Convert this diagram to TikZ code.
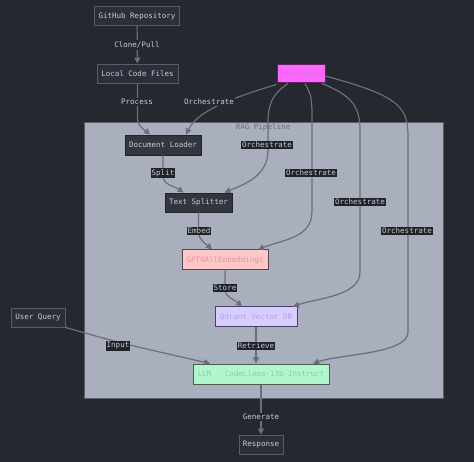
\documentclass[tikz,border=0pt]{standalone}
\usepackage{fontspec}
\setmonofont{DejaVu Sans Mono}
\usetikzlibrary{arrows.meta}
\definecolor{bgc}{RGB}{37,40,47}
\definecolor{clusterc}{RGB}{169,175,189}
\definecolor{clusterb}{RGB}{90,95,108}
\definecolor{edgec}{RGB}{105,110,126}
\definecolor{boxfill}{RGB}{44,47,57}
\definecolor{boxline}{RGB}{88,93,106}
\definecolor{txtc}{RGB}{200,202,208}
\definecolor{innerfill}{RGB}{50,54,63}
\definecolor{lblfill}{RGB}{33,35,42}
\definecolor{lcfill}{RGB}{255,102,255}
\definecolor{lctext}{RGB}{205,120,225}
\definecolor{embfill}{RGB}{255,199,199}
\definecolor{embtext}{RGB}{225,150,155}
\definecolor{qdfill}{RGB}{217,204,255}
\definecolor{qdtext}{RGB}{175,165,220}
\definecolor{llmfill}{RGB}{176,248,204}
\definecolor{llmtext}{RGB}{140,205,170}
\definecolor{llmline}{RGB}{70,95,80}
\tikzset{
  every node/.style={font=\ttfamily\fontsize{7.5}{9}\selectfont, inner sep=0pt},
  outbox/.style={draw=boxline, fill=boxfill, text=txtc, line width=0.8pt, minimum height=19pt},
  innerbox/.style={draw=lblfill, fill=innerfill, text=txtc, line width=0.8pt, minimum height=20pt},
  colbox/.style={line width=1pt, minimum height=20pt},
  edge/.style={draw=edgec, line width=1.2pt, -{Triangle[length=6pt,width=6pt]}},
  olbl/.style={fill=bgc, text=txtc, inner sep=1.5pt},
  ilbl/.style={fill=lblfill, text=txtc, inner sep=1pt},
}
\begin{document}
\begin{tikzpicture}[x=1pt,y=-1pt]
\fill[bgc] (0,0) rectangle (474,462);
\useasboundingbox (0,0) rectangle (474,462);
% cluster
\draw[fill=clusterc, draw=clusterb, line width=0.8pt] (84,122) rectangle (443,398);
\node[text=edgec] (clab) at (263,127.5) {RAG Pipeline};
% nodes
\node[outbox, minimum width=85pt] (gh) at (137,16) {GitHub Repository};
\node[outbox, minimum width=81pt] (lcf) at (137.5,73.5) {Local Code Files};
\node[colbox, draw={rgb,255:red,90;green,40;blue,90}, fill=lcfill, text=lctext, minimum width=48pt, minimum height=18pt] (lc) at (301,74) {LangChain};
\node[innerbox, minimum width=76pt] (dl) at (163,145) {Document Loader};
\node[innerbox, minimum width=67pt, minimum height=19pt] (ts) at (198.5,202.5) {Text Splitter};
\node[colbox, draw={rgb,255:red,80;green,70;blue,75}, fill=embfill, text=embtext, minimum width=86pt] (emb) at (225,260) {GPT4AllEmbeddings};
\node[colbox, draw={rgb,255:red,70;green,65;blue,100}, fill=qdfill, text=qdtext, minimum width=82pt] (qd) at (256,317) {Qdrant Vector DB};
\node[outbox, minimum width=54pt] (uq) at (38,317.5) {User Query};
\node[colbox, draw=llmline, fill=llmfill, text=llmtext, minimum width=136pt] (llm) at (261,374) {LLM - CodeLlama-13b-Instruct};
\node[outbox, minimum width=44pt] (resp) at (261,444.5) {Response};
% edges
\draw[edge] (gh) -- (lcf);
\draw[edge] (lcf.south) -- (137.5,118) .. controls (137.5,127) and (145,130) .. ([xshift=-13]dl.north);
\draw[edge] ([yshift=-1]lc.south west) .. controls (235,97) and (198,110) .. ([xshift=23]dl.north);
\draw[edge] ([xshift=-13]lc.south) .. controls (271,95) and (268,105) .. (268,125) -- (268,150) .. controls (268,176) and (245,184) .. ([xshift=26]ts.north);
\draw[edge] ([xshift=4]lc.south) .. controls (311,95) .. (312,110) -- (312,212) .. controls (312,238) and (282,240) .. ([xshift=33]emb.north);
\draw[edge] ([xshift=21]lc.south) .. controls (350,95) and (360,105) .. (360,130) -- (360,272) .. controls (360,296) and (318,298) .. ([xshift=37]qd.north);
\draw[edge] ([yshift=-2]lc.east) .. controls (395,95) and (408,105) .. (408,135) -- (408,332) .. controls (408,354) and (340,354) .. ([xshift=52]llm.north);
\draw[edge] (dl.south) -- (163,176) .. controls (163,185) and (176,187) .. ([xshift=-15]ts.north);
\draw[edge] (ts.south) -- (198.5,232) .. controls (198.5,240) and (206,244) .. ([xshift=-13]emb.north);
\draw[edge] (emb.south) -- (225,290) .. controls (225,297) and (235,300) .. ([xshift=-14]qd.north);
\draw[edge] (qd.south) -- (qd.south |- llm.north);
\draw[edge] (uq.south east) .. controls (120,343) .. ([xshift=-51]llm.north);
\draw[edge] (llm.south) -- (resp.north);
% labels
\node[olbl] (l1) at (137,45) {Clone/Pull};
\node[olbl] (l2) at (137,102) {Process};
\node[olbl] (l3) at (209,102) {Orchestrate};
\node[ilbl] (l4) at (267,145) {Orchestrate};
\node[ilbl] (l5) at (163,173) {Split};
\node[ilbl] (l6) at (311,173) {Orchestrate};
\node[ilbl] (l7) at (360,202) {Orchestrate};
\node[ilbl] (l8) at (199,231) {Embed};
\node[ilbl] (l9) at (407,231) {Orchestrate};
\node[ilbl] (l10) at (225,288) {Store};
\node[ilbl] (l11) at (118,346) {Input};
\node[ilbl] (l12) at (256,346) {Retrieve};
\node[olbl] (l13) at (261,417) {Generate};
\end{tikzpicture}
\end{document}
